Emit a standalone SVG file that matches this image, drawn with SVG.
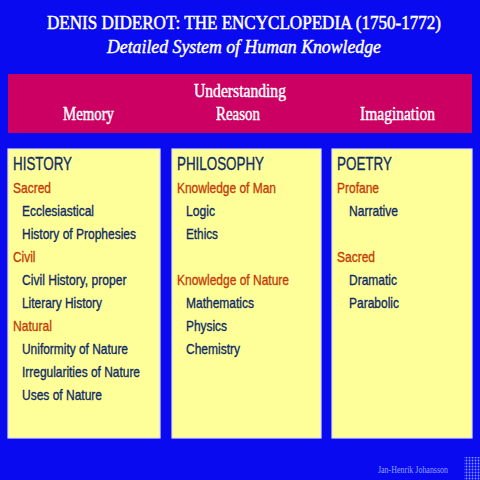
<svg xmlns="http://www.w3.org/2000/svg" width="480" height="480" viewBox="0 0 480 480">
<defs>
<style>
.title{font-family:"Palatino Linotype","Book Antiqua","Liberation Serif",serif;fill:#ffffff;stroke:#ffffff;stroke-width:0.45}
.box{fill:#ffff99;stroke:#dcdcec;stroke-width:1.2}
.t{font-family:"Liberation Sans",Arial,sans-serif;font-size:15px;stroke-width:0.35}
.h{font-family:"Liberation Sans",Arial,sans-serif;font-size:18px;fill:#0f2a66;stroke:#0f2a66;stroke-width:0.35}
.sub{fill:#c43c0a;stroke:#c43c0a}
.item{fill:#0f2a66;stroke:#0f2a66}
</style>
<pattern id="logo" width="3" height="3" patternUnits="userSpaceOnUse">
<circle cx="1.5" cy="1.5" r="0.9" fill="#7f9cff"/>
</pattern>
</defs>
<rect x="0" y="0" width="480" height="480" fill="#0a0af0"/>
<g id="title">
<text class="title" transform="translate(244,29) scale(1,1.2)" x="0" y="0" font-size="16.5" text-anchor="middle" textLength="394" lengthAdjust="spacingAndGlyphs">DENIS DIDEROT: THE ENCYCLOPEDIA (1750-1772)</text>
<text class="title" x="244" y="53" font-size="19" font-style="italic" text-anchor="middle" textLength="274" lengthAdjust="spacingAndGlyphs">Detailed System of Human Knowledge</text>
</g>
<g id="understanding">
<rect x="8" y="74" width="464" height="59" fill="#cc0062"/>
<text class="title" x="194" y="97" font-size="18" textLength="92" lengthAdjust="spacingAndGlyphs">Understanding</text>
<text class="title" x="63" y="120" font-size="18" textLength="51" lengthAdjust="spacingAndGlyphs">Memory</text>
<text class="title" x="216" y="120" font-size="18" textLength="44" lengthAdjust="spacingAndGlyphs">Reason</text>
<text class="title" x="360" y="120" font-size="18" textLength="75" lengthAdjust="spacingAndGlyphs">Imagination</text>
</g>
<g id="connectors"></g>
<g id="history">
<rect class="box" x="8" y="149" width="152" height="289"/>
<text class="h" x="13" y="170" textLength="59" lengthAdjust="spacingAndGlyphs">HISTORY</text>
<text class="t sub" x="13" y="193" textLength="38" lengthAdjust="spacingAndGlyphs">Sacred</text>
<text class="t item" x="22" y="216" textLength="72" lengthAdjust="spacingAndGlyphs">Ecclesiastical</text>
<text class="t item" x="22" y="239" textLength="114" lengthAdjust="spacingAndGlyphs">History of Prophesies</text>
<text class="t sub" x="13" y="262" textLength="22.5" lengthAdjust="spacingAndGlyphs">Civil</text>
<text class="t item" x="22" y="285" textLength="104.5" lengthAdjust="spacingAndGlyphs">Civil History, proper</text>
<text class="t item" x="22" y="308" textLength="80" lengthAdjust="spacingAndGlyphs">Literary History</text>
<text class="t sub" x="13" y="331" textLength="39" lengthAdjust="spacingAndGlyphs">Natural</text>
<text class="t item" x="22" y="354" textLength="106" lengthAdjust="spacingAndGlyphs">Uniformity of Nature</text>
<text class="t item" x="22" y="377" textLength="118" lengthAdjust="spacingAndGlyphs">Irregularities of Nature</text>
<text class="t item" x="22" y="400" textLength="80" lengthAdjust="spacingAndGlyphs">Uses of Nature</text>
</g>
<g id="philosophy">
<rect class="box" x="172" y="149" width="149" height="289"/>
<text class="h" x="177" y="170" textLength="87" lengthAdjust="spacingAndGlyphs">PHILOSOPHY</text>
<text class="t sub" x="177" y="193" textLength="99" lengthAdjust="spacingAndGlyphs">Knowledge of Man</text>
<text class="t item" x="186" y="216" textLength="29" lengthAdjust="spacingAndGlyphs">Logic</text>
<text class="t item" x="186" y="239" textLength="32" lengthAdjust="spacingAndGlyphs">Ethics</text>
<text class="t sub" x="177" y="285" textLength="112" lengthAdjust="spacingAndGlyphs">Knowledge of Nature</text>
<text class="t item" x="186" y="308" textLength="68" lengthAdjust="spacingAndGlyphs">Mathematics</text>
<text class="t item" x="186" y="331" textLength="41" lengthAdjust="spacingAndGlyphs">Physics</text>
<text class="t item" x="186" y="354" textLength="54" lengthAdjust="spacingAndGlyphs">Chemistry</text>
</g>
<g id="poetry">
<rect class="box" x="332" y="149" width="140" height="289"/>
<text class="h" x="337" y="170" textLength="55" lengthAdjust="spacingAndGlyphs">POETRY</text>
<text class="t sub" x="337" y="193" textLength="42" lengthAdjust="spacingAndGlyphs">Profane</text>
<text class="t item" x="349" y="216" textLength="49" lengthAdjust="spacingAndGlyphs">Narrative</text>
<text class="t sub" x="337" y="262" textLength="38" lengthAdjust="spacingAndGlyphs">Sacred</text>
<text class="t item" x="349" y="285" textLength="48" lengthAdjust="spacingAndGlyphs">Dramatic</text>
<text class="t item" x="349" y="308" textLength="50" lengthAdjust="spacingAndGlyphs">Parabolic</text>
</g>
<g id="footer">
<text x="378" y="473" font-family="'Liberation Serif',serif" font-size="10" fill="#8fa0ff" textLength="70" lengthAdjust="spacingAndGlyphs">Jan-Henrik Johansson</text>
<rect x="464" y="457" width="16" height="23" fill="url(#logo)"/>
</g>
</svg>
